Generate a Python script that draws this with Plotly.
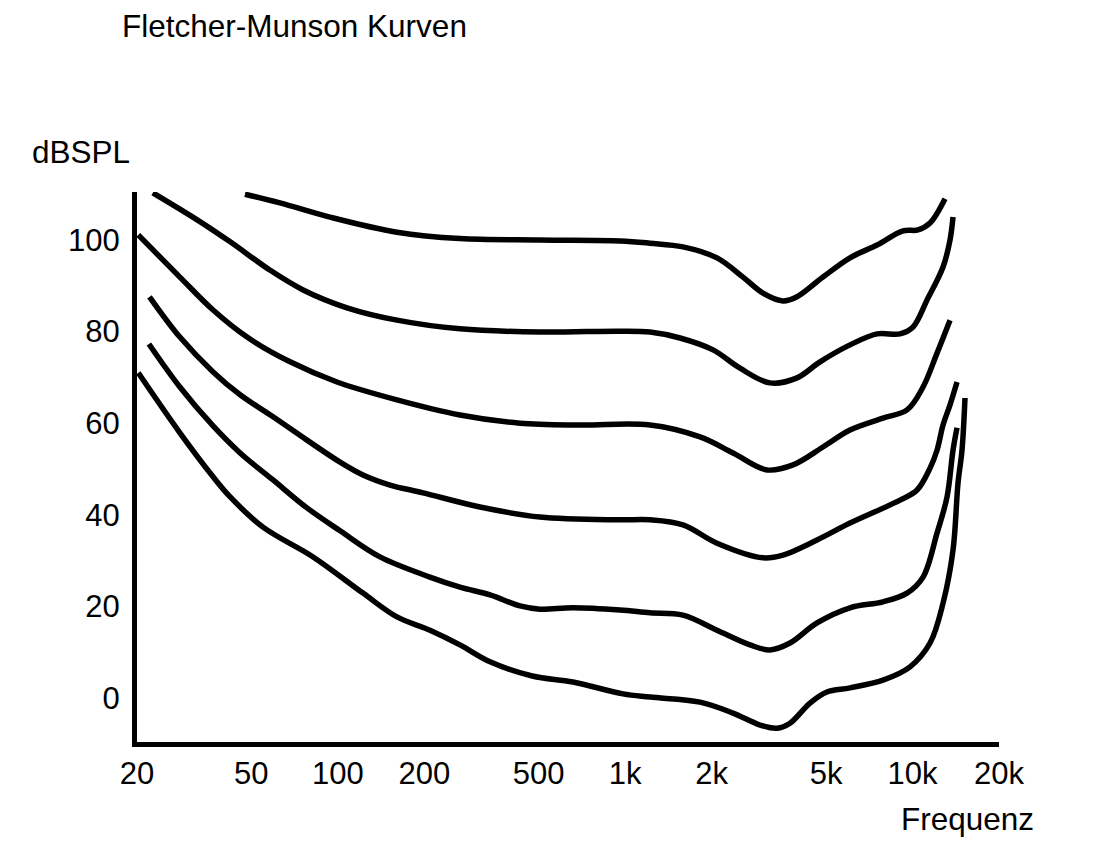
import plotly.graph_objects as go

# Tick labels
x_tickvals = [20, 50, 100, 200, 500, 1000, 2000, 5000, 10000, 20000]
x_ticktext = ["20", "50", "100", "200", "500", "1k", "2k", "5k", "10k", "20k"]
y_tickvals = [0, 20, 40, 60, 80, 100]

# Equal-loudness curves (frequency in Hz, level in dB SPL)
f_100 = [47.5, 62.9, 93.9, 160.6, 266.1, 505.2, 959.3, 1220, 1589, 2087, 2571, 3018, 3543, 3963, 4880, 6060, 7524, 9270, 10455, 11509, 12978]
l_100 = [110.0, 108.1, 105.0, 101.7, 100.3, 100.0, 99.8, 99.3, 98.5, 96.1, 91.9, 88.4, 86.7, 87.6, 91.9, 96.1, 98.9, 102.0, 102.2, 103.7, 109.0]

f_80 = [22.7, 32.4, 42.2, 58.1, 75.7, 107.6, 160.6, 266.1, 505.2, 959.3, 1220, 1552, 2022, 2510, 3192, 3963, 4766, 6060, 7524, 9049, 10044, 11237, 12771, 13507, 13835]
l_80 = [110.3, 104.4, 99.6, 93.4, 89.1, 85.2, 82.5, 80.6, 79.9, 80.1, 79.9, 78.6, 76.0, 72.0, 68.8, 69.9, 73.4, 77.1, 79.5, 79.5, 81.0, 86.9, 94.1, 100.0, 105.0]

f_60 = [20.2, 28.2, 36.8, 48.3, 68.2, 99.3, 160.6, 266.1, 430.5, 696.4, 1220, 1822, 2373, 3116, 3838, 4880, 6060, 7894, 9571, 10882, 12171, 13507]
l_60 = [101.1, 91.9, 84.7, 78.8, 73.4, 69.0, 65.1, 61.8, 60.0, 59.6, 59.6, 57.0, 53.5, 49.8, 50.9, 54.8, 58.5, 61.1, 62.9, 67.9, 75.3, 82.5]

f_40 = [22.1, 28.2, 36.8, 45.7, 59.5, 78.1, 101.8, 122.3, 151.9, 197.9, 312.4, 505.2, 959.3, 1220, 1589, 2087, 3018, 3543, 4652, 6060, 9049, 10371, 11509, 12171, 12771, 13507, 14286]
l_40 = [87.6, 78.8, 71.2, 66.2, 61.4, 56.3, 51.5, 48.7, 46.5, 44.8, 41.7, 39.5, 38.9, 38.9, 37.8, 33.8, 30.6, 31.2, 34.5, 38.2, 43.2, 45.4, 50.2, 54.1, 59.6, 64.0, 69.0]

f_20 = [22.0, 28.2, 36.8, 45.7, 59.5, 78.1, 101.8, 140.2, 209.2, 266.1, 338.6, 430.5, 505.2, 658.4, 959.3, 1220, 1589, 2087, 2719, 3192, 3746, 4652, 6060, 7894, 9571, 10882, 12171, 13187, 13835, 14286]
l_20 = [77.3, 67.9, 59.4, 53.5, 47.6, 41.5, 36.5, 30.8, 26.4, 24.2, 22.5, 20.1, 19.4, 19.7, 19.2, 18.6, 18.1, 14.8, 11.6, 10.5, 12.0, 16.4, 19.7, 21.0, 22.9, 26.4, 36.0, 43.9, 54.1, 59.0]

f_0 = [20.2, 28.2, 36.8, 42.2, 54.9, 82.0, 122.3, 160.6, 209.2, 266.1, 338.6, 475.0, 658.4, 982.6, 1220, 1822, 2373, 2946, 3377, 3746, 4398, 5039, 6060, 7894, 9804, 11509, 12771, 13835, 14399, 14868, 15230]
l_0 = [71.0, 57.9, 48.3, 43.9, 37.3, 30.8, 22.9, 17.7, 14.8, 11.6, 7.9, 4.8, 3.5, 0.9, 0.2, -0.9, -3.3, -5.9, -6.6, -5.5, -1.1, 1.3, 2.2, 3.9, 6.8, 12.0, 20.7, 32.3, 46.9, 54.1, 65.5]

curves = [(f_100, l_100), (f_80, l_80), (f_60, l_60), (f_40, l_40), (f_20, l_20), (f_0, l_0)]

FONT = "Liberation Sans, Arial, sans-serif"

fig = go.Figure()
for fx, ly in curves:
    fig.add_trace(go.Scatter(
        x=fx, y=ly, mode="lines",
        line=dict(color="black", width=5.5, shape="spline", smoothing=1.0),
        showlegend=False, hoverinfo="skip",
    ))

fig.update_layout(
    width=1093, height=846,
    margin=dict(l=137, r=94, t=192, b=104),
    paper_bgcolor="white", plot_bgcolor="white",
    font=dict(family=FONT, size=31, color="black"),
    showlegend=False,
    xaxis=dict(
        type="log", range=[1.30102, 4.30103],
        tickvals=x_tickvals, ticktext=x_ticktext,
        showline=True, linewidth=5, linecolor="black",
        showgrid=False, zeroline=False, ticks="",
        tickfont=dict(size=31, family=FONT, color="black"),
        ticklabelstandoff=0,
    ),
    yaxis=dict(
        range=[-9.61, 110.48],
        tickvals=y_tickvals,
        showline=True, linewidth=5, linecolor="black",
        showgrid=False, zeroline=False, ticks="",
        tickfont=dict(size=31, family=FONT, color="black"),
        ticklabelstandoff=6,
    ),
    annotations=[
        dict(text="Fletcher-Munson Kurven", xref="paper", yref="paper",
             x=-0.0197, y=1.3025, xanchor="left", yanchor="middle",
             showarrow=False, font=dict(size=31.5, family=FONT, color="black")),
        dict(text="dBSPL", xref="paper", yref="paper",
             x=-0.1241, y=1.0727, xanchor="left", yanchor="middle",
             showarrow=False, font=dict(size=31.5, family=FONT, color="black")),
        dict(text="Frequenz", xref="paper", yref="paper",
             x=1.0429, y=-0.1409, xanchor="right", yanchor="middle",
             showarrow=False, font=dict(size=31.5, family=FONT, color="black")),
    ],
)

fig.write_html("out.html")
